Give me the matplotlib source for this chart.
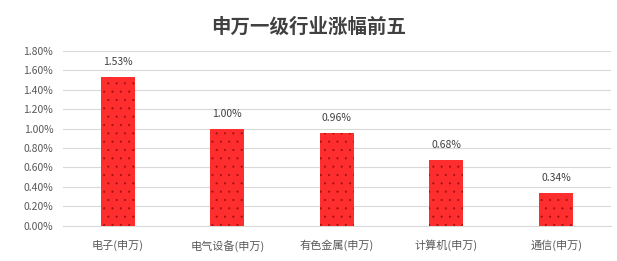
import matplotlib
matplotlib.use("Agg")
from matplotlib import pyplot as plt
from matplotlib.ticker import FuncFormatter

CATEGORIES = ["电子(申万)", "电气设备(申万)", "有色金属(申万)", "计算机(申万)", "通信(申万)"]
VALUES = [1.53, 1.00, 0.96, 0.68, 0.34]
LABELS = ["1.53%", "1.00%", "0.96%", "0.68%", "0.34%"]
TITLE = "申万一级行业涨幅前五"


def main():
    plt.rcParams["font.family"] = ["Noto Sans CJK SC", "DejaVu Sans"]
    plt.rcParams["hatch.linewidth"] = 0.3

    fig = plt.figure(figsize=(6.17, 2.61), dpi=100)
    ax = fig.add_axes([0.102, 0.135, 0.888, 0.670])

    x = range(len(CATEGORIES))
    bars = ax.bar(x, VALUES, width=0.31, color="#FF2E2E", edgecolor="#A01010",
                  linewidth=0, hatch="..", zorder=3)

    for b, lab in zip(bars, LABELS):
        ax.annotate(lab, (b.get_x() + b.get_width() / 2, b.get_height()),
                    xytext=(0, 7), textcoords="offset points",
                    ha="center", va="bottom", fontsize=7.5, color="#404040")

    ax.set_ylim(0, 1.8)
    ax.set_yticks([i * 0.2 for i in range(10)])
    ax.yaxis.set_major_formatter(FuncFormatter(lambda v, p: "%.2f%%" % v))
    ax.set_xlim(-0.5, len(CATEGORIES) - 0.5)
    ax.set_xticks(list(x))
    ax.set_xticklabels(CATEGORIES)

    ax.grid(axis="y", color="#D9D9D9", linewidth=0.8, zorder=0)
    for s in ["top", "right", "left"]:
        ax.spines[s].set_visible(False)
    ax.spines["bottom"].set_color("#D9D9D9")
    ax.tick_params(axis="both", length=0, labelsize=7.5, colors="#595959")
    ax.tick_params(axis="x", pad=10, labelsize=8)
    ax.tick_params(axis="y", pad=7)

    fig.text(0.5, 0.895, TITLE, ha="center", va="center", fontsize=14,
             fontweight="bold", color="#404040")

    fig.savefig("out.png", dpi=100)


if __name__ == "__main__":
    main()
